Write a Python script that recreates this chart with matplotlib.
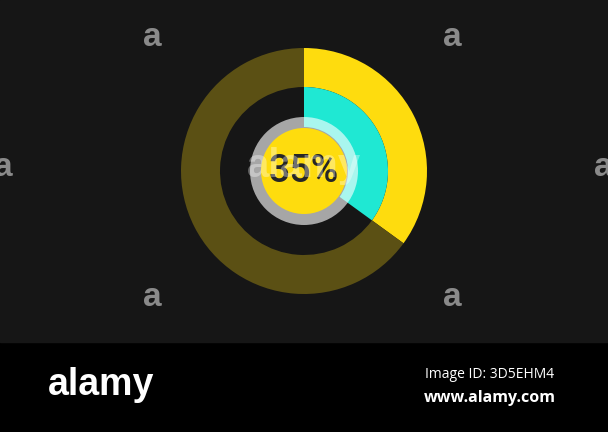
import matplotlib
matplotlib.use("Agg")
import matplotlib.pyplot as plt
from matplotlib.patches import Circle, Rectangle

# ring values (percent)
progress = 35
parts = [progress, 100 - progress]
label = f"{progress}%"

# colours
bg_top = "#161616"
yellow = "#fedc0e"
olive = "#5b5014"
cyan = "#1fe8d3"

# watermark texts
brand = "alamy"
image_id = "Image ID: 3D5EHM4"
site = "www.alamy.com"
logo = dict(family="Liberation Sans", fontweight="bold")

W, H = 608, 432
fig = plt.figure(figsize=(W / 100, H / 100), dpi=100)
fig.patch.set_facecolor("black")

# dark upper area
bgax = fig.add_axes([0, 0, 1, 1])
bgax.set_xlim(0, W)
bgax.set_ylim(H, 0)
bgax.axis("off")
bgax.add_patch(Rectangle((0, 0), W, 342, color=bg_top, zorder=0))

# small "a" marks across the picture
for x, y in [(152, 38), (452, 38), (3, 168), (603, 168), (152, 297), (452, 297)]:
    bgax.text(x, y, "a", color="#8a8a8a", fontsize=24, ha="center", va="center", **logo)

# bottom band
bgax.text(101, 385, brand, color="white", fontsize=27, ha="center", va="center", **logo)
bgax.text(490, 375, image_id, color="white", fontsize=10, ha="center", va="center",
          family="Open Sans")
bgax.text(490, 398, site, color="white", fontsize=11.5, fontweight="bold",
          ha="center", va="center", family="Open Sans")

# donut axes, 1 data unit = 123 px
R = 123
side = 300
cx, cy = 304, H - 171
ax = fig.add_axes([(cx - side / 2) / W, (cy - side / 2) / H, side / W, side / H])

# outer ring
ax.pie(parts, colors=[yellow, olive], radius=1, startangle=90, counterclock=False,
       wedgeprops=dict(width=39 / R, linewidth=0))
# middle ring, only the progress part is drawn
ax.pie(parts, colors=[cyan, "none"], radius=84 / R, startangle=90, counterclock=False,
       wedgeprops=dict(width=40 / R, linewidth=0))
# translucent grey ring and yellow centre
ax.add_patch(Circle((0, 0), 54 / R, color="white", alpha=0.62, linewidth=0, zorder=5))
ax.add_patch(Circle((0, 0), 43 / R, color=yellow, linewidth=0, zorder=6))
ax.set_xlim(-side / 2 / R, side / 2 / R)
ax.set_ylim(-side / 2 / R, side / 2 / R)
ax.set_aspect("equal")
ax.axis("off")

ax.text(0, 0, label, color="#262626", fontsize=27, fontweight="medium", ha="center",
        va="center", family=["Roboto", "Liberation Sans"], zorder=8)
# faint watermark over the centre
ax.text(0, 0.04, brand, color="white", alpha=0.35, fontsize=29, ha="center",
        va="center", zorder=9, **logo)

fig.savefig("out.png", dpi=100, facecolor=fig.get_facecolor())
